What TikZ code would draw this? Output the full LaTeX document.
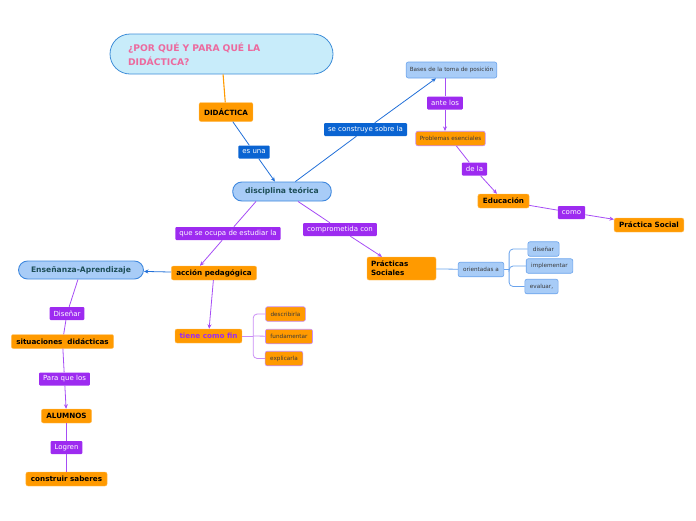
\documentclass[tikz,border=0pt]{standalone}
\usepackage{fontspec}
\setmainfont{DejaVu Sans}
\usepackage{tikz}
\usetikzlibrary{arrows.meta}
\definecolor{orgfill}{HTML}{FF9A00}
\definecolor{orgedge}{HTML}{FFBE5C}
\definecolor{ltblue}{HTML}{A8CCF7}
\definecolor{ltedge}{HTML}{6AA3EC}
\definecolor{topicedge}{HTML}{3F88DE}
\definecolor{tealtext}{HTML}{1D4E57}
\definecolor{blulab}{HTML}{0A64D2}
\definecolor{bluline}{HTML}{2270D8}
\definecolor{purlab}{HTML}{9D2BF0}
\definecolor{purline}{HTML}{A64DF5}
\definecolor{puredge}{HTML}{C98CF5}
\definecolor{titlefill}{HTML}{C8ECFA}
\definecolor{titleedge}{HTML}{3F8ED8}
\definecolor{titletext}{HTML}{EC6A9E}
\definecolor{smtext}{HTML}{3A3A3A}
\newcommand{\boxfont}{\fontsize{7.2}{8.8}\selectfont\bfseries}
\newcommand{\topicfont}{\fontsize{7.6}{9}\selectfont\bfseries}
\newcommand{\lblfont}{\fontsize{7}{8}\selectfont}
\newcommand{\smfont}{\fontsize{5.7}{7}\selectfont}
\begin{document}
\begin{tikzpicture}[x=1pt, y=-1pt, >={Stealth[length=4.5pt, width=4pt]},
    orangebox/.style={fill=orgfill, draw=orgedge, rounded corners=2pt, font=\boxfont,
      inner xsep=5pt, inner ysep=1pt, minimum height=14pt},
    topic/.style={fill=ltblue, draw=topicedge, line width=0.9pt, rounded corners=9pt,
      font=\topicfont, text=tealtext, inner xsep=12.5pt, minimum height=18pt},
    bluelab/.style={fill=blulab, text=white, font=\lblfont, rounded corners=1pt,
      inner xsep=4pt, inner ysep=1pt, minimum height=13pt},
    purplab/.style={bluelab, fill=purlab},
    smallblue/.style={fill=ltblue, draw=ltedge, line width=0.6pt, rounded corners=2pt,
      font=\smfont, text=smtext, inner xsep=5pt, inner ysep=1pt, minimum height=14.5pt},
    smallorange/.style={smallblue, fill=orgfill, draw=puredge},
    blueline/.style={draw=bluline, line width=0.8pt},
    purpline/.style={draw=purline, line width=0.8pt},
    brkblue/.style={draw=ltedge, line width=0.8pt, rounded corners=4pt},
    brkpurp/.style={draw=puredge, line width=0.8pt, rounded corners=4pt}]
  \useasboundingbox (0,0) rectangle (696,520);

  % title and upper branch
  \node (title) at (221.5,54) [fill=titlefill, draw=titleedge, line width=0.8pt, rounded corners=20pt,
    text width=187pt, inner xsep=18pt, minimum height=40pt, align=left, text=titletext,
    font=\fontsize{9.2}{14}\selectfont\bfseries] {¿POR QUÉ Y PARA QUÉ LA\\DIDÁCTICA?};
  \node (didactica) at (226,112) [orangebox, minimum height=19pt] {DIDÁCTICA};
  \node (esuna) at (254,152) [bluelab] {es una};
  \node (disciplina) at (282,191.5) [topic, minimum height=19pt] {disciplina teórica};
  \node (seconstruye) at (365.5,129.5) [bluelab] {se construye sobre la};
  \node (bases) at (451.5,70) [smallblue, inner xsep=3.5pt, minimum height=16pt] {Bases de la toma de posición};
  \node (antelos) at (445,103) [purplab] {ante los};
  \node (problemas) at (450.5,138.5) [smallorange, inner xsep=4pt] {Problemas esenciales};
  \node (dela) at (474.5,169) [purplab] {de la};
  \node (educacion) at (503.5,201) [orangebox] {Educación};
  \node (como) at (571.5,212.5) [purplab] {como};
  \node (practicasocial) at (649,225) [orangebox] {Práctica Social};

  \draw [draw=orgfill, line width=1.1pt] (title) -- (didactica);
  \draw [blueline] (didactica) -- (esuna);
  \draw [blueline, ->] (esuna) -- (disciplina);
  \draw [blueline] (disciplina) -- (seconstruye);
  \draw [blueline, ->] (seconstruye) -- ([xshift=-15.5pt]bases.south);
  \draw [purpline] (bases.south -| antelos) -- (antelos);
  \draw [purpline, ->] (antelos) -- (problemas.north -| antelos);
  \draw [purpline] (problemas) -- (dela);
  \draw [purpline, ->] (dela) -- (educacion);
  \draw [purpline] (educacion) -- (como);
  \draw [purpline, ->] (como) -- (practicasocial);

  % middle branch
  \node (queseocupa) at (228,233.5) [purplab] {que se ocupa de estudiar la};
  \node (comprometida) at (340,229.5) [purplab] {comprometida con};
  \node (accion) at (214,273) [orangebox] {acción pedagógica};
  \node (practicas) at (401.5,268.5) [orangebox, text width=61pt, inner xsep=4pt, align=left,
    minimum height=23pt, font=\fontsize{7.2}{9}\selectfont\bfseries] {Prácticas\\Sociales};
  \node (orientadas) at (481,269.5) [smallblue] {orientadas a};
  \node (disenar) at (543.5,249) [smallblue] {diseñar};
  \node (implementar) at (549.5,266) [smallblue] {implementar};
  \node (evaluar) at (541.5,286.5) [smallblue] {evaluar,};
  \coordinate (ojunc) at ([xshift=5pt]orientadas.east);

  \draw [purpline] ([xshift=-26pt]disciplina.south) -- (queseocupa);
  \draw [purpline, ->] (queseocupa) -- ([xshift=-14pt]accion.north);
  \draw [purpline] ([xshift=16pt]disciplina.south) -- (comprometida);
  \draw [purpline, ->] (comprometida) -- ([xshift=-19.5pt]practicas.north);
  \draw [brkblue] (practicas) -- (orientadas);
  \draw [brkblue] (orientadas) -- (ojunc);
  \draw [brkblue] (ojunc) |- (disenar);
  \draw [brkblue] (ojunc) |- (implementar);
  \draw [brkblue] (ojunc) |- (evaluar);

  % left branch
  \node (ensenanza) at (81,270) [topic] {Enseñanza-Aprendizaje};
  \node (tiene) at (208.5,336) [orangebox, text=purlab, inner xsep=4.5pt] {tiene como fin};
  \node (describirla) at (285.5,314) [smallorange] {describirla};
  \node (fundamentar) at (289,336.5) [smallorange] {fundamentar};
  \node (explicarla) at (284,358.5) [smallorange] {explicarla};
  \coordinate (tjunc) at ([xshift=11pt]tiene.east);
  \node (disenarlab) at (67,313.5) [purplab] {Diseñar};
  \node (situaciones) at (62.5,341.5) [orangebox] {situaciones\ \ didácticas};
  \node (paraquelos) at (64.5,379) [purplab] {Para que los};
  \node (alumnos) at (66.5,416) [orangebox] {ALUMNOS};
  \node (logren) at (66.5,447.5) [purplab] {Logren};
  \node (construir) at (66.5,479) [orangebox] {construir saberes};

  \draw [blueline, ->] (accion) -- (ensenanza);
  \draw [purpline, ->] (accion) -- (tiene);
  \draw [brkpurp] (tiene) -- (tjunc);
  \draw [brkpurp] (tjunc) |- (describirla);
  \draw [brkpurp] (tjunc) -- (fundamentar);
  \draw [brkpurp] (tjunc) |- (explicarla);
  \draw [purpline] (ensenanza) -- (disenarlab);
  \draw [purpline] (disenarlab) -- (situaciones);
  \draw [purpline] (situaciones) -- (paraquelos);
  \draw [purpline, ->] (paraquelos) -- (alumnos);
  \draw [purpline] (alumnos) -- (logren);
  \draw [purpline] (logren) -- (construir);
\end{tikzpicture}
\end{document}
